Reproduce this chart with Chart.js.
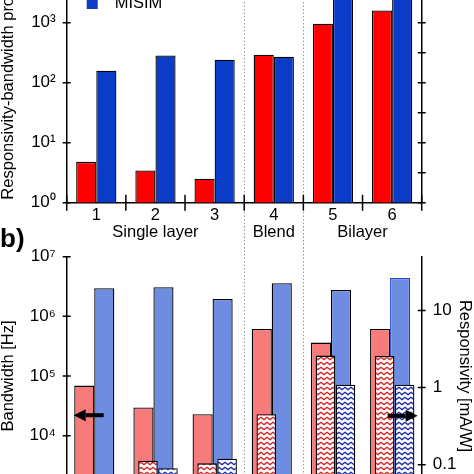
<!DOCTYPE html>
<html>
<head>
<meta charset="utf-8">
<script src="https://cdn.jsdelivr.net/npm/chart.js@4.4.1/dist/chart.umd.min.js"></script>
<style>
  html, body { margin: 0; padding: 0; background: #fff; }
  body { width: 474px; height: 474px; position: relative; overflow: hidden; }
  canvas { position: absolute; left: 0; }
  #top { top: -68px; }
  #bottom { top: 226px; }
  #tag { position: absolute; left: 0; top: 223px; line-height: 1; font: bold 26px "Liberation Sans", Arial, sans-serif; }
</style>
</head>
<body>
<canvas id="top" width="474" height="318"></canvas>
<canvas id="bottom" width="474" height="300"></canvas>
<div id="tag">b)</div>
<script>
const categories = ["1", "2", "3", "4", "5", "6"];
const groupNames = ["Single layer", "Blend", "Bilayer"];
const groupCenters = [1.5, 3.5, 5];
const groupBreaks = [3, 4];
const seriesNames = ["MSM", "MISIM"];

// (a) responsivity-bandwidth product
const productMSM = [4.8, 3.45, 2.5, 293, 962, 1600];
const productMISIM = [158, 285, 242, 271, 4200, 6000];
const productTicks = [1, 10, 100, 1000, 10000];
const productTickLabels = ["10⁰", "10¹", "10²", "10³", "10⁴"];
const productRightTicks = [1, 10, 100, 1e3, 1e4, 1e5, 1e6, 1e7, 1e8];

// (b) bandwidth [Hz] and responsivity [mA/W]
const bandwidthMSM = [69000, 29600, 22900, 615000, 363000, 615000];
const bandwidthMISIM = [2960000, 3070000, 1950000, 3580000, 2770000, 4400000];
const responsivityMSM = [0.03, 0.112, 0.104, 0.452, 2.6, 2.57];
const responsivityMISIM = [0.03, 0.09, 0.119, 0.03, 1.09, 1.09];
const bandwidthTicks = [1e3, 1e4, 1e5, 1e6, 1e7];
const bandwidthTickLabels = ["10³", "10⁴", "10⁵", "10⁶", "10⁷"];
const respTicks = [0.1, 1, 10];
const respTickLabels = ["0.1", "1", "10"];

const FONT = "'Liberation Sans', Arial, sans-serif";
Chart.defaults.font.family = FONT;
Chart.defaults.color = "#000";

const $ = (id) => document.getElementById(id);

function zigzag(color) {
  const c = document.createElement("canvas");
  c.width = 6;
  c.height = 5;
  const g = c.getContext("2d");
  g.fillStyle = "#fff";
  g.fillRect(0, 0, 6, 5);
  g.strokeStyle = color;
  g.lineWidth = 1.4;
  g.lineJoin = "round";
  g.beginPath();
  g.moveTo(-1, 4.2);
  g.lineTo(0, 3.7);
  g.lineTo(3, 1.3);
  g.lineTo(6, 3.7);
  g.lineTo(7, 4.2);
  g.stroke();
  return g.createPattern(c, "repeat");
}

// ticks that cross the axis line, like the original plot
const crossTicks = {
  id: "crossTicks",
  afterDraw(chart, args, opts) {
    const ctx = chart.ctx;
    ctx.save();
    ctx.strokeStyle = "#000";
    ctx.lineWidth = 1.5;
    ctx.beginPath();
    Object.entries(opts.axes || {}).forEach(([id, half]) => {
      const s = chart.scales[id];
      if (s.isHorizontal()) {
        const step = s.getPixelForValue(1) - s.getPixelForValue(0);
        for (let i = 0; i <= s.ticks.length; i++) {
          const x = s.getPixelForValue(0) + (i - 0.5) * step;
          ctx.moveTo(x, s.top - half);
          ctx.lineTo(x, s.top + half);
        }
      } else {
        const x = s.position === "left" ? s.right : s.left;
        s.ticks.forEach((t) => {
          const y = s.getPixelForValue(t.value);
          ctx.moveTo(x - half, y);
          ctx.lineTo(x + half, y);
        });
      }
    });
    ctx.stroke();
    ctx.restore();
  }
};

// dotted separators between the device groups
const groupLines = {
  id: "groupLines",
  beforeDatasetsDraw(chart) {
    const { ctx, chartArea: a } = chart;
    ctx.save();
    ctx.strokeStyle = "#999";
    ctx.lineWidth = 1;
    ctx.setLineDash([1.5, 2]);
    groupBreaks.forEach((k) => {
      const x = Math.round(a.left + (a.width * k) / categories.length) + 0.5;
      ctx.beginPath();
      ctx.moveTo(x, 0);
      ctx.lineTo(x, chart.height);
      ctx.stroke();
    });
    ctx.restore();
  }
};

const insideLegend = {
  id: "insideLegend",
  afterDraw(chart) {
    const { ctx, chartArea: a } = chart;
    ctx.save();
    ctx.font = "16.5px " + FONT;
    ctx.textBaseline = "middle";
    chart.data.datasets.forEach((ds, i) => {
      const y = a.top + 20.8 + i * 20;
      ctx.fillStyle = ds.backgroundColor;
      ctx.fillRect(a.left + 20, y - 5.5, 11, 11);
      ctx.fillStyle = "#000";
      ctx.fillText(ds.label, a.left + 48, y);
    });
    ctx.restore();
  }
};

// every bar set in panel b sits on its own hidden category axis, nudged sideways
const barShift = {
  id: "barShift",
  afterLayout(chart, args, opts) {
    Object.entries(opts.shift || {}).forEach(([id, dx]) => {
      const s = chart.scales[id];
      s.left += dx;
      s.right += dx;
      s.configure();
    });
  }
};

const axisArrows = {
  id: "axisArrows",
  afterDatasetsDraw(chart, args, opts) {
    const { ctx, chartArea: a } = chart;
    ctx.save();
    ctx.fillStyle = "#000";
    ctx.strokeStyle = "#000";
    (opts.items || []).forEach((it) => {
      const y = chart.scales[it.axis].getPixelForValue(it.value);
      const tip = it.dir < 0 ? a.left + 7 : a.right - 4;
      const tail = tip - it.dir * 30;
      const neck = tip - it.dir * 12;
      ctx.lineWidth = 4;
      ctx.beginPath();
      ctx.moveTo(tail, y);
      ctx.lineTo(neck, y);
      ctx.stroke();
      ctx.beginPath();
      ctx.moveTo(tip, y);
      ctx.lineTo(neck, y - 6);
      ctx.lineTo(neck, y + 6);
      ctx.closePath();
      ctx.fill();
    });
    ctx.restore();
  }
};

const axisLine = { display: true, color: "#000", width: 1.5 };
const noGrid = { display: false, drawTicks: false };
const pickLabel = (ticks, labels) => (v) => labels[ticks.indexOf(v)] ?? "";
const hiddenCat = { type: "category", display: false, offset: true };

new Chart($("top"), {
  type: "bar",
  data: {
    labels: categories,
    datasets: [
      { label: seriesNames[0], data: productMSM, backgroundColor: "#ff0000", borderColor: "#000", borderWidth: 1.3, categoryPercentage: 0.68, barPercentage: 1 },
      { label: seriesNames[1], data: productMISIM, backgroundColor: "#0a3cc8", borderColor: "#000", borderWidth: 1.3, categoryPercentage: 0.68, barPercentage: 1 }
    ]
  },
  options: {
    responsive: false,
    animation: false,
    layout: { padding: { top: 30.7, left: 0, right: 0, bottom: 0 } },
    plugins: {
      legend: { display: false },
      tooltip: { enabled: false },
      crossTicks: { axes: { x: 8, y: 4, y2: 4 } }
    },
    scales: {
      x: {
        type: "category",
        offset: true,
        grid: noGrid,
        border: axisLine,
        ticks: { font: { size: 16.5 }, padding: 3, maxRotation: 0 },
        afterFit: (s) => { s.height = 19; }
      },
      x2: {
        type: "linear",
        position: "bottom",
        offset: false,
        min: 0,
        max: 6,
        grid: { ...noGrid, offset: false },
        border: { display: false },
        ticks: { font: { size: 16.5 }, padding: 1, autoSkip: false, maxRotation: 0, callback: pickLabel(groupCenters, groupNames) },
        afterBuildTicks: (s) => { s.ticks = groupCenters.map((v) => ({ value: v })); },
        afterFit: (s) => { s.height = 28.3; }
      },
      y: {
        type: "logarithmic",
        position: "left",
        min: 1,
        max: 1e4,
        grid: noGrid,
        border: axisLine,
        ticks: { font: { size: 17 }, padding: 11, callback: pickLabel(productTicks, productTickLabels) },
        afterBuildTicks: (s) => { s.ticks = productTicks.map((v) => ({ value: v })); },
        title: { display: true, text: "Responsivity-bandwidth product", font: { size: 16.5, lineHeight: 1 }, padding: 0 },
        afterFit: (s) => { s.width = 66.7; }
      },
      y2: {
        type: "logarithmic",
        position: "right",
        min: 1,
        max: 1e8,
        grid: noGrid,
        border: axisLine,
        ticks: { display: false },
        afterBuildTicks: (s) => { s.ticks = productRightTicks.map((v) => ({ value: v })); },
        afterFit: (s) => { s.width = 52.3; }
      }
    }
  },
  plugins: [groupLines, crossTicks, insideLegend]
});

const solidBar = { grouped: false, borderWidth: 1.3, categoryPercentage: 0.34, barPercentage: 1 };
const hatchBar = { grouped: false, borderWidth: 1.3, categoryPercentage: 0.33, barPercentage: 1 };

new Chart($("bottom"), {
  type: "bar",
  data: {
    labels: categories,
    datasets: [
      { ...solidBar, label: "MSM bandwidth", data: bandwidthMSM, xAxisID: "xa", yAxisID: "y", order: 1, backgroundColor: "#f77b7b", borderColor: "#000" },
      { ...solidBar, label: "MISIM bandwidth", data: bandwidthMISIM, xAxisID: "xb", yAxisID: "y", order: 1, backgroundColor: "#6e8ce0", borderColor: ["#000", "#000", "#000", "#000", "#000", "#2348d8"] },
      { ...hatchBar, label: "MSM responsivity", data: responsivityMSM, xAxisID: "xc", yAxisID: "yR", order: 0, backgroundColor: zigzag("#d02828"), borderColor: "#000" },
      { ...hatchBar, label: "MISIM responsivity", data: responsivityMISIM, xAxisID: "xd", yAxisID: "yR", order: 0, backgroundColor: zigzag("#1f2fa8"), borderColor: "#000" }
    ]
  },
  options: {
    responsive: false,
    animation: false,
    layout: { padding: { top: 30.7, left: 0, right: 0, bottom: 30.7 } },
    plugins: {
      legend: { display: false },
      tooltip: { enabled: false },
      crossTicks: { axes: { y: 4, yR: 4 } },
      barShift: { shift: { xa: -12, xb: 8, xc: -7.5, xd: 12.5 } },
      axisArrows: { items: [{ axis: "y", value: 2.2e4, dir: -1 }, { axis: "yR", value: 0.43, dir: 1 }] }
    },
    scales: {
      xa: hiddenCat,
      xb: hiddenCat,
      xc: hiddenCat,
      xd: hiddenCat,
      y: {
        type: "logarithmic",
        position: "left",
        min: 1e3,
        max: 1e7,
        grid: noGrid,
        border: axisLine,
        ticks: { font: { size: 17 }, padding: 11, callback: pickLabel(bandwidthTicks, bandwidthTickLabels) },
        afterBuildTicks: (s) => { s.ticks = bandwidthTicks.map((v) => ({ value: v })); },
        title: { display: true, text: "Bandwidth [Hz]", font: { size: 16.5, lineHeight: 1 }, padding: 0 },
        afterFit: (s) => { s.width = 66.7; }
      },
      yR: {
        type: "logarithmic",
        position: "right",
        min: 0.04,
        max: 50,
        grid: noGrid,
        border: axisLine,
        ticks: { font: { size: 17 }, padding: 11, callback: pickLabel(respTicks, respTickLabels) },
        afterBuildTicks: (s) => { s.ticks = respTicks.map((v) => ({ value: v })); },
        title: { display: true, text: "Responsivity [mA/W]", font: { size: 16.5, lineHeight: 1.2 }, padding: 0 },
        afterFit: (s) => { s.width = 52.3; }
      }
    }
  },
  plugins: [barShift, groupLines, axisArrows, crossTicks]
});
</script>
</body>
</html>
